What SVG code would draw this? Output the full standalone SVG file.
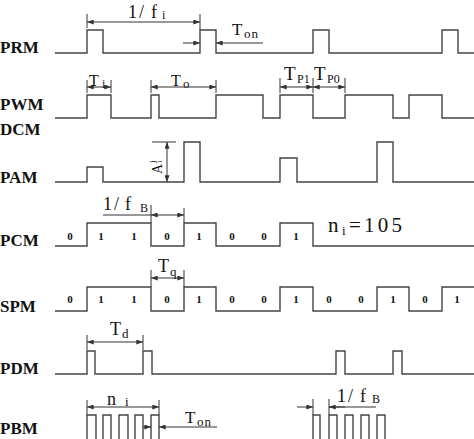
<svg xmlns="http://www.w3.org/2000/svg" width="474" height="439" viewBox="0 0 474 439">
<defs>
<marker id="ah" viewBox="0 0 8 6" refX="8" refY="3" markerWidth="7" markerHeight="5" markerUnits="userSpaceOnUse" orient="auto-start-reverse">
<path d="M0,0 L8,3 L0,6 z" fill="#333"/>
</marker>
<style>
.w{fill:none;stroke:#444;stroke-width:1.4}
.d{fill:none;stroke:#333;stroke-width:1}
.da{fill:none;stroke:#333;stroke-width:1;marker-start:url(#ah);marker-end:url(#ah)}
.de{fill:none;stroke:#333;stroke-width:1;marker-end:url(#ah)}
.lab{font-family:"Liberation Serif",serif;font-weight:bold;font-size:17px;fill:#111}
.bit{font-family:"Liberation Serif",serif;font-weight:bold;font-size:11px;fill:#111;text-anchor:middle}
.t{font-family:"Liberation Serif",serif;fill:#111}
</style>
</defs>
<rect width="474" height="439" fill="#fff"/>

<g id="labels">
<text class="lab" x="0" y="53">PRM</text>
<text class="lab" x="0" y="110">PWM</text>
<text class="lab" x="0" y="135">DCM</text>
<text class="lab" x="0" y="183">PAM</text>
<text class="lab" x="0" y="246">PCM</text>
<text class="lab" x="0" y="312">SPM</text>
<text class="lab" x="0" y="374">PDM</text>
<text class="lab" x="0" y="434">PBM</text>
</g>

<g id="prm">
<path class="w" d="M55,53 H87 V30 H103 V53 H200 V30 H216 V53 H313 V30 H329 V53 H442 V30 H458 V53 H474"/>
</g>
<g id="pwm">
<path class="w" d="M55,118 H87 V95 H111 V118 H151 V95 H159 V118 H216 V95 H263 V118 H280 V95 H313 V118 H345 V95 H393 V118 H409 V95 H442 V118 H474"/>
</g>
<g id="pam">
<path class="w" d="M55,182 H87 V167 H103 V182 H184 V142 H200 V182 H280 V158 H297 V182 H377 V142 H393 V182 H474"/>
</g>
<g id="pcm">
<path class="w" d="M55,246 H87 V223 H151 V246 H184 V223 H216 V246 H280 V223 H313 V246 H474"/>
<text class="bit" x="70" y="240">0</text>
<text class="bit" x="101" y="240">1</text>
<text class="bit" x="134" y="240">1</text>
<text class="bit" x="167" y="240">0</text>
<text class="bit" x="199" y="240">1</text>
<text class="bit" x="232" y="240">0</text>
<text class="bit" x="264" y="240">0</text>
<text class="bit" x="296" y="240">1</text>
</g>
<g id="spm">
<path class="w" d="M55,311 H87 V287 H151 V311 H184 V287 H216 V311 H280 V287 H313 V311 H377 V287 H409 V311 H442 V287 H474"/>
<text class="bit" x="70" y="303">0</text>
<text class="bit" x="101" y="303">1</text>
<text class="bit" x="134" y="303">1</text>
<text class="bit" x="167" y="303">0</text>
<text class="bit" x="199" y="303">1</text>
<text class="bit" x="232" y="303">0</text>
<text class="bit" x="264" y="303">0</text>
<text class="bit" x="296" y="303">1</text>
<text class="bit" x="329" y="303">0</text>
<text class="bit" x="361" y="303">0</text>
<text class="bit" x="393" y="303">1</text>
<text class="bit" x="425" y="303">0</text>
<text class="bit" x="457" y="303">1</text>
</g>
<g id="pdm">
<path class="w" d="M55,374 H87 V351 H95 V374 H143 V351 H152 V374 H336 V351 H345 V374 H393 V351 H402 V374 H474"/>
</g>
<g id="pbm">
<path class="w" d="M87,445 V415 H96 V445 M103,445 V415 H111 V445 M119,445 V415 H128 V445 M135,445 V415 H143 V445 M151,445 V415 H159 V445 M313,445 V415 H320 V445 M329,445 V415 H337 V445 M345,445 V415 H353 V445 M361,445 V415 H369 V445 M377,445 V415 H385 V445"/>
</g>

<g id="connectors">
<path class="d" d="M87,14 V28 M200,14 V30"/>
<path class="da" d="M87,22 H200"/>
<path class="de" d="M183,43 H200"/>
<path class="de" d="M263,43 H216"/>
<path class="d" d="M87,80 V93 M111,80 V93 M151,80 V93 M216,80 V93"/>
<path class="da" d="M87,87 H111"/>
<path class="da" d="M151,87 H216"/>
<path class="d" d="M280,78 V93 M313,78 V93 M345,78 V93"/>
<path class="da" d="M280,87 H313"/>
<path class="da" d="M313,87 H345"/>
<path class="d" d="M152,142 H176"/>
<path class="da" d="M167,142 V182"/>
<path class="d" d="M103,215 H151 M151,205 V223 M184,208 V223"/>
<path class="da" d="M151,215 H184"/>
<path class="d" d="M151,270 V287 M184,270 V287"/>
<path class="da" d="M151,278 H184"/>
<path class="d" d="M87,335 V350 M143,335 V350"/>
<path class="da" d="M87,342 H143"/>
<path class="d" d="M87,400 V415 M159,400 V415"/>
<path class="da" d="M87,407 H159"/>
<path class="de" d="M143,427 H151"/>
<path class="de" d="M217,427 H159"/>
<path class="d" d="M313,399 V415 M329,399 V415 M329,407 H376"/>
<path class="de" d="M297,407 H313"/>
<path class="de" d="M345,407 H329"/>
</g>

<g id="annotations">
<text class="t" font-size="18" x="128 139 151" y="18">1/f</text>
<text class="t" font-size="12" x="162" y="19">i</text>
<text class="t" font-size="17" x="232" y="35">T</text>
<text class="t" font-size="13" x="244" y="38" letter-spacing="1">on</text>
<text class="t" font-size="16" x="89" y="86">T</text>
<text class="t" font-size="12" x="102" y="88">i</text>
<text class="t" font-size="16" x="171" y="86">T</text>
<text class="t" font-size="13" x="183" y="88">o</text>
<text class="t" font-size="19" x="284" y="80">T</text>
<text class="t" font-size="12" x="297" y="83">P1</text>
<text class="t" font-size="19" x="314" y="80">T</text>
<text class="t" font-size="12" x="327" y="83">P0</text>
<g transform="translate(162,174) rotate(-90)">
<text class="t" font-size="14" x="0" y="0">A</text>
<text class="t" font-size="9" x="11" y="0">i</text>
<text class="t" font-size="9" x="11" y="-7">j</text>
</g>
<text class="t" font-size="18" x="103 114 125" y="210">1/f</text>
<text class="t" font-size="12" x="140" y="212">B</text>
<text class="t" font-size="21" x="328" y="232">n</text>
<text class="t" font-size="13" x="342" y="235">i</text>
<text class="t" font-size="21" x="349" y="232" textLength="53">=105</text>
<text class="t" font-size="18" x="158" y="272">T</text>
<text class="t" font-size="13" x="170" y="276">q</text>
<text class="t" font-size="18" x="110" y="335">T</text>
<text class="t" font-size="13" x="122" y="338">d</text>
<text class="t" font-size="18" x="107" y="405">n</text>
<text class="t" font-size="13" x="125" y="406">i</text>
<text class="t" font-size="17" x="185" y="423">T</text>
<text class="t" font-size="13" x="197" y="426" letter-spacing="1">on</text>
<text class="t" font-size="18" x="337 348 360" y="402">1/f</text>
<text class="t" font-size="12" x="372" y="403">B</text>
</g>
</svg>
